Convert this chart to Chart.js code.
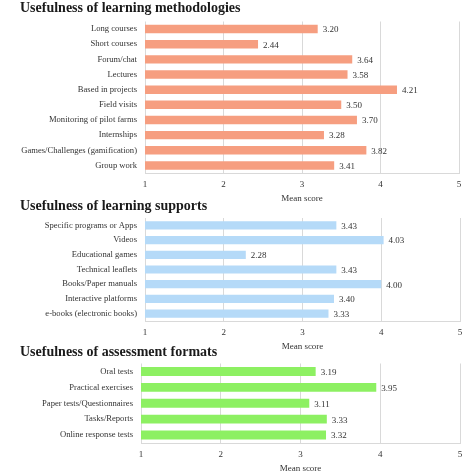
<!DOCTYPE html>
<html>
<head>
<meta charset="utf-8">
<script src="https://cdn.jsdelivr.net/npm/chart.js@4.4.1/dist/chart.umd.min.js"></script>
<style>
  html, body { margin:0; padding:0; background:#fff; }
  #wrap { position:relative; width:474px; height:474px; overflow:hidden; background:#fff; }
  canvas { position:absolute; left:0; }
</style>
</head>
<body>
<div id="wrap">
  <canvas id="c1" width="474" height="206" style="top:-2px"></canvas>
  <canvas id="c2" width="474" height="156" style="top:196px"></canvas>
  <canvas id="c3" width="474" height="132" style="top:342px"></canvas>
</div>
<script>
// ---- Data ----
const methodsTitle = 'Usefulness of learning methodologies';
const methodsLabels = ['Long courses','Short courses','Forum/chat','Lectures','Based in projects','Field visits','Monitoring of pilot farms','Internships','Games/Challenges (gamification)','Group work'];
const methodsValues = [3.20, 2.44, 3.64, 3.58, 4.21, 3.50, 3.70, 3.28, 3.82, 3.41];

const supportsTitle = 'Usefulness of learning supports';
const supportsLabels = ['Specific programs or Apps','Videos','Educational games','Technical leaflets','Books/Paper manuals','Interactive platforms','e-books (electronic books)'];
const supportsValues = [3.43, 4.03, 2.28, 3.43, 4.00, 3.40, 3.33];

const assessTitle = 'Usefulness of assessment formats';
const assessLabels = ['Oral tests','Practical exercises','Paper tests/Questionnaires','Tasks/Reports','Online response tests'];
const assessValues = [3.19, 3.95, 3.11, 3.33, 3.32];

const xMin = 1, xMax = 5, xStep = 1;
const xAxisTitle = 'Mean score';

// ---- Style ----
const FONT = "'Liberation Serif', 'DejaVu Serif', serif";
const TEXT = '#333333';
const GRID = '#d9d9d9';

const valueLabels = {
  id: 'valueLabels',
  afterDatasetsDraw(chart) {
    const ctx = chart.ctx;
    const meta = chart.getDatasetMeta(0);
    const data = chart.data.datasets[0].data;
    ctx.save();
    ctx.font = '9px ' + FONT;
    ctx.fillStyle = TEXT;
    ctx.textAlign = 'left';
    ctx.textBaseline = 'middle';
    meta.data.forEach((bar, i) => {
      ctx.fillText(Number(data[i]).toFixed(2), bar.x + 5, bar.y + 1);
    });
    ctx.restore();
  }
};

function makeChart(id, title, labels, values, color, yWidth, rightPad, titlePadBottom) {
  return new Chart(document.getElementById(id), {
    type: 'bar',
    data: {
      labels: labels,
      datasets: [{ data: values, backgroundColor: color, borderWidth: 0,
                   categoryPercentage: 1.0, barPercentage: 0.56 }]
    },
    options: {
      indexAxis: 'y',
      responsive: false,
      animation: false,
      layout: { padding: { left: 20, right: rightPad, top: 0, bottom: 0 } },
      plugins: {
        legend: { display: false },
        tooltip: { enabled: false },
        title: {
          display: true, text: title, align: 'start', color: '#1a1a1a',
          font: { family: FONT, size: 14, weight: 'bold' },
          padding: { top: 2, bottom: titlePadBottom - 2 }
        }
      },
      scales: {
        x: {
          type: 'linear', min: xMin, max: xMax,
          ticks: { stepSize: xStep, color: TEXT, font: { family: FONT, size: 9 }, padding: 6 },
          grid: { color: GRID, drawTicks: false, lineWidth: 1 },
          border: { display: true, color: GRID },
          title: { display: true, text: xAxisTitle, color: TEXT,
                   font: { family: FONT, size: 9 }, padding: { top: 0, bottom: 0 } },
          afterFit(scale) { scale.height = 31; }
        },
        y: {
          ticks: { color: TEXT, font: { family: FONT, size: 8.6 }, padding: 8, autoSkip: false },
          grid: { display: false, drawTicks: false },
          border: { display: false },
          afterFit(scale) { scale.width = yWidth; }
        }
      }
    },
    plugins: [valueLabels]
  });
}

makeChart('c1', methodsTitle, methodsLabels, methodsValues, '#F69E80', 125, 15, 6.7);
makeChart('c2', supportsTitle, supportsLabels, supportsValues, '#B5DAF8', 125, 14, 5.2);
makeChart('c3', assessTitle, assessLabels, assessValues, '#8DF062', 121, 14, 4.7);
</script>
</body>
</html>
